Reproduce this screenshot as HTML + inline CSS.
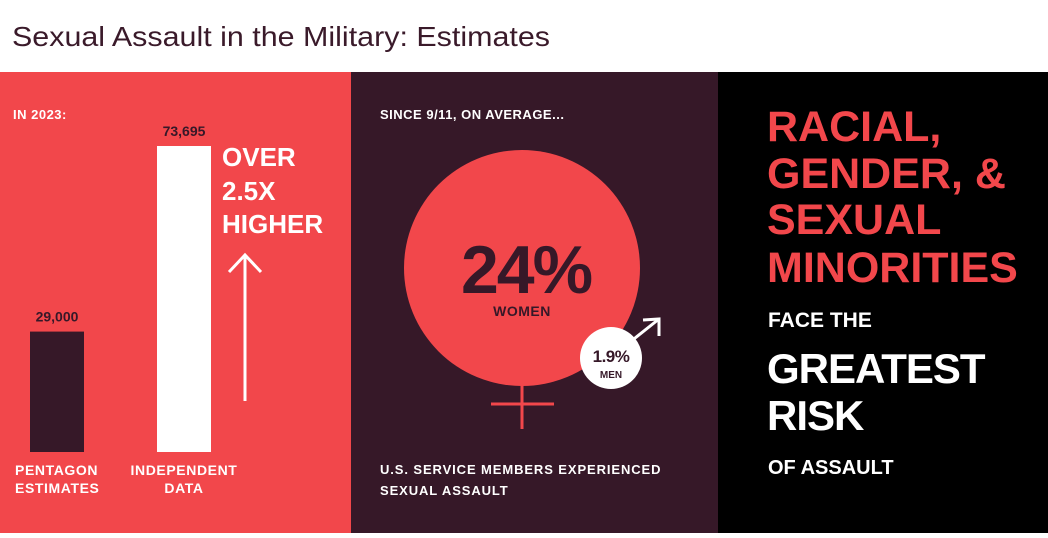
<!DOCTYPE html>
<html><head><meta charset="utf-8"><style>
body{margin:0;width:1048px;height:533px;overflow:hidden;background:#fff;font-family:"Liberation Sans",sans-serif}
</style></head><body>
<svg width="1048" height="533" xmlns="http://www.w3.org/2000/svg" font-family="Liberation Sans, sans-serif">
<text x="12" y="46" font-size="28" fill="#3a1a2a" textLength="538" lengthAdjust="spacingAndGlyphs">Sexual Assault in the Military: Estimates</text>
<rect x="0" y="72" width="351" height="461" fill="#f2474b"/>
<rect x="351" y="72" width="367" height="461" fill="#361828"/>
<rect x="718" y="72" width="330" height="461" fill="#000"/>
<text x="13" y="119" font-size="13" font-weight="bold" fill="#fff" letter-spacing="0.5">IN 2023:</text>
<g id="bars"></g>
<text x="222" y="166" font-size="26" font-weight="bold" fill="#fff">OVER</text>
<text x="222" y="200" font-size="26" font-weight="bold" fill="#fff">2.5X</text>
<text x="222" y="233" font-size="26" font-weight="bold" fill="#fff">HIGHER</text>
<g stroke="#fff" stroke-width="3" fill="none"><line x1="245" y1="256" x2="245" y2="401"/><polyline points="229,272 245,255 261,272"/></g>
<text x="15" y="475" font-size="14" font-weight="bold" fill="#fff" letter-spacing="0.6">PENTAGON</text>
<text x="15" y="493" font-size="14" font-weight="bold" fill="#fff" letter-spacing="0.6">ESTIMATES</text>
<text x="184" y="475" font-size="14" font-weight="bold" fill="#fff" text-anchor="middle" letter-spacing="0.6">INDEPENDENT</text>
<text x="184" y="493" font-size="14" font-weight="bold" fill="#fff" text-anchor="middle" letter-spacing="0.6">DATA</text>

<text x="380" y="119" font-size="13" font-weight="bold" fill="#fff" letter-spacing="0.5">SINCE 9/11, ON AVERAGE...</text>
<circle cx="522" cy="268" r="118" fill="#f2474b"/>
<line x1="522" y1="385" x2="522" y2="429" stroke="#f2474b" stroke-width="3"/>
<line x1="491" y1="404" x2="554" y2="404" stroke="#f2474b" stroke-width="3"/>
<text x="526" y="293" font-size="68" font-weight="bold" fill="#361828" text-anchor="middle" letter-spacing="-2">24%</text>
<text x="522" y="316" font-size="14" font-weight="bold" fill="#361828" text-anchor="middle" letter-spacing="0.5">WOMEN</text>
<g stroke="#fff" stroke-width="3" fill="none"><line x1="630" y1="342" x2="659" y2="319"/><polyline points="643,320 659,319 659,336"/></g>
<circle cx="611" cy="358" r="31" fill="#fff"/>
<text x="611" y="362" font-size="17" font-weight="bold" fill="#361828" text-anchor="middle" letter-spacing="-0.5">1.9%</text>
<text x="611" y="378" font-size="10" font-weight="bold" fill="#361828" text-anchor="middle">MEN</text>
<text x="380" y="474" font-size="13" font-weight="bold" fill="#fff" letter-spacing="0.9">U.S. SERVICE MEMBERS EXPERIENCED</text>
<text x="380" y="495" font-size="13" font-weight="bold" fill="#fff" letter-spacing="0.9">SEXUAL ASSAULT</text>

<g font-size="43" font-weight="bold" fill="#f2474b">
<text x="767" y="141">RACIAL,</text><text x="767" y="188">GENDER, &amp;</text><text x="767" y="234">SEXUAL</text><text x="767" y="282">MINORITIES</text></g>
<text x="768" y="327" font-size="21" font-weight="bold" fill="#fff">FACE THE</text>
<text x="767" y="383" font-size="42" font-weight="bold" fill="#fff" letter-spacing="-1">GREATEST</text>
<text x="767" y="430" font-size="42" font-weight="bold" fill="#fff" letter-spacing="-1">RISK</text>
<text x="768" y="474" font-size="20" font-weight="bold" fill="#fff">OF ASSAULT</text>
</svg>
<script>
const categories=["Pentagon Estimates","Independent Data"];
const values=[29000,73695];
const valueLabels=["29,000","73,695"];
const colors=["#361828","#ffffff"];
const barX=[30,157];
const baseY=452, maxH=306, maxV=73695, barW=54;
function yScale(v){return baseY - v/maxV*maxH;}
const g=document.getElementById('bars');
const NS="http://www.w3.org/2000/svg";
values.forEach((v,i)=>{
  const r=document.createElementNS(NS,'rect');
  r.setAttribute('x',barX[i]);r.setAttribute('y',yScale(v));
  r.setAttribute('width',barW);r.setAttribute('height',baseY-yScale(v));
  r.setAttribute('fill',colors[i]);
  
  
  g.appendChild(r);
  const t=document.createElementNS(NS,'text');
  t.setAttribute('x',barX[i]+barW/2);t.setAttribute('y',yScale(v)-10);
  t.setAttribute('text-anchor','middle');t.setAttribute('font-size','14');
  t.setAttribute('font-weight','bold');t.setAttribute('fill','#361828');
  t.textContent=valueLabels[i];
  
  
  g.appendChild(t);
});
</script>
</body></html>
